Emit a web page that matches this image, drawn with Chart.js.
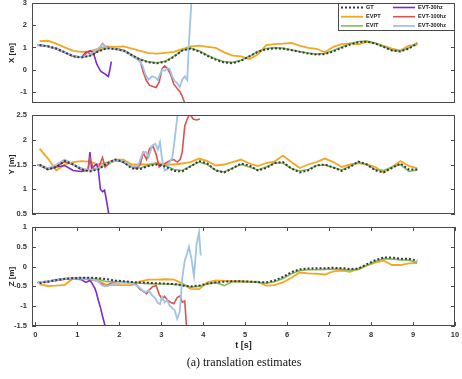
<!DOCTYPE html>
<html>
<head>
<meta charset="utf-8">
<script src="https://cdn.jsdelivr.net/npm/chart.js@4.4.1/dist/chart.umd.min.js"></script>
<style>
  html, body { margin: 0; padding: 0; background: #fff; }
  #wrap { position: relative; width: 462px; height: 379px; overflow: hidden; }
  .box { position: absolute; left: 0; width: 462px; }
  #caption {
    position: absolute; left: 144px; width: 200px; top: 355px;
    text-align: center; font: 12px "Liberation Serif", "Times New Roman", serif;
    line-height: 14px; color: #111;
  }
</style>
</head>
<body>
<div id="wrap">
  <div class="box" style="top:0;height:106px"><canvas id="cx"></canvas></div>
  <div class="box" style="top:112px;height:105px"><canvas id="cy"></canvas></div>
  <div class="box" style="top:224px;height:140px"><canvas id="cz"></canvas></div>
  <div id="caption">(a) translation estimates</div>
</div>
<script>
// time grid shared by GT / EVPT / EVIT [s]
const T = [0.1,0.3,0.5,0.7,0.9,1.1,1.3,1.5,1.7,1.9,2.1,2.3,2.5,2.7,2.9,3.1,3.3,3.5,3.7,3.9,
  4.1,4.3,4.5,4.7,4.9,5.1,5.3,5.5,5.7,5.9,6.1,6.3,6.5,6.7,6.9,7.1,7.3,7.5,7.7,7.9,
  8.1,8.3,8.5,8.7,8.9,9.1];

const GT_X   = [1.11,1.05,0.95,0.78,0.6,0.55,0.62,0.82,0.96,0.93,0.86,0.65,0.45,0.33,0.29,0.36,0.58,0.86,0.95,0.82,
  0.62,0.45,0.32,0.29,0.4,0.6,0.8,0.92,0.96,0.94,0.88,0.8,0.73,0.68,0.7,0.82,0.98,1.13,1.24,1.26,
  1.18,1.02,0.86,0.82,0.95,1.17];
const EVPT_X = [1.28,1.3,1.17,1.0,0.85,0.8,0.82,0.95,1.05,1.03,1.05,0.95,0.85,0.74,0.72,0.76,0.8,0.92,1.05,1.08,
  1.03,0.98,0.78,0.63,0.6,0.48,0.68,1.1,1.15,1.17,1.2,1.08,0.98,0.94,0.78,1.03,1.15,1.18,1.14,1.25,
  1.18,1.07,0.95,0.86,1.08,1.12];
const EVIT_X = [1.12,1.05,0.95,0.78,0.62,0.56,0.64,0.84,0.98,0.95,0.87,0.66,0.47,0.35,0.31,0.38,0.6,0.87,0.97,0.85,
  0.65,0.48,0.36,0.33,0.42,0.6,0.82,0.95,0.99,0.97,0.9,0.82,0.75,0.7,0.73,0.86,1.02,1.17,1.27,1.29,
  1.2,1.04,0.88,0.84,0.97,1.22];

const GT_Y   = [1.5,1.4,1.45,1.57,1.5,1.4,1.36,1.4,1.52,1.6,1.55,1.42,1.41,1.47,1.5,1.46,1.37,1.36,1.46,1.57,
  1.52,1.38,1.34,1.42,1.52,1.48,1.38,1.43,1.53,1.55,1.42,1.34,1.38,1.48,1.5,1.44,1.37,1.45,1.56,1.5,
  1.38,1.34,1.43,1.52,1.4,1.4];
const EVPT_Y = [1.82,1.62,1.38,1.5,1.55,1.57,1.56,1.5,1.54,1.6,1.6,1.5,1.5,1.5,1.53,1.5,1.5,1.52,1.55,1.62,
  1.57,1.48,1.5,1.55,1.6,1.52,1.47,1.53,1.56,1.68,1.55,1.43,1.5,1.55,1.62,1.55,1.45,1.5,1.53,1.5,
  1.45,1.34,1.45,1.57,1.47,1.42];
const EVIT_Y = [1.5,1.42,1.47,1.56,1.5,1.42,1.38,1.41,1.52,1.58,1.55,1.44,1.43,1.49,1.52,1.48,1.4,1.38,1.47,1.55,
  1.5,1.38,1.35,1.43,1.5,1.45,1.39,1.45,1.53,1.53,1.42,1.37,1.4,1.48,1.49,1.44,1.39,1.47,1.55,1.5,
  1.4,1.38,1.45,1.5,1.36,1.39];

const GT_Z   = [-0.42,-0.38,-0.34,-0.31,-0.29,-0.28,-0.28,-0.29,-0.32,-0.35,-0.37,-0.39,-0.4,-0.41,-0.42,-0.43,-0.44,-0.48,-0.5,-0.48,
  -0.43,-0.4,-0.38,-0.37,-0.37,-0.38,-0.39,-0.4,-0.35,-0.26,-0.14,-0.07,-0.05,-0.04,-0.04,-0.03,-0.04,-0.06,-0.05,0.06,
  0.16,0.23,0.23,0.2,0.2,0.15];
const EVPT_Z = [-0.45,-0.49,-0.48,-0.46,-0.3,-0.3,-0.33,-0.36,-0.46,-0.47,-0.47,-0.47,-0.37,-0.33,-0.33,-0.32,-0.33,-0.42,-0.56,-0.57,
  -0.4,-0.35,-0.36,-0.37,-0.37,-0.38,-0.38,-0.48,-0.47,-0.4,-0.28,-0.15,-0.17,-0.18,-0.2,-0.12,-0.1,-0.13,-0.05,0.03,
  0.1,0.15,0.04,0.04,0.08,0.09];
const EVIT_Z = [-0.4,-0.38,-0.35,-0.32,-0.3,-0.3,-0.3,-0.32,-0.38,-0.38,-0.38,-0.4,-0.42,-0.43,-0.44,-0.44,-0.45,-0.45,-0.52,-0.5,
  -0.44,-0.4,-0.48,-0.38,-0.38,-0.39,-0.4,-0.42,-0.38,-0.3,-0.18,-0.1,-0.08,-0.08,-0.07,-0.06,-0.07,-0.09,-0.07,0.03,
  0.13,0.2,0.19,0.17,0.16,0.1];

// EVT runs, each on its own time stamps (they diverge and leave the axes)
const T30    = [0.05,0.3,0.5,0.7,0.9,1.1,1.2,1.26,1.3,1.34,1.38,1.42,1.46,1.5,1.55,1.6,1.65,1.7,1.74,1.77,1.81];
const EVT30_X = [1.1,1.04,0.93,0.77,0.6,0.56,0.78,0.82,0.85,0.82,0.75,0.53,0.27,0.12,-0.05,-0.13,-0.18,-0.25,-0.3,-0.05,0.36];
const EVT30_Y = [1.5,1.41,1.45,1.48,1.38,1.36,1.38,1.4,1.75,1.42,1.45,1.48,1.5,1.4,1.0,0.95,0.98,0.75,0.55,0.35,0.1];
const EVT30_Z = [-0.4,-0.37,-0.33,-0.3,-0.3,-0.33,-0.4,-0.37,-0.35,-0.4,-0.48,-0.55,-0.68,-0.85,-1.03,-1.25,-1.45,-1.7,-1.9,-2.0,-2.1];

const T100   = [0.05,0.3,0.5,0.7,0.9,1.1,1.25,1.3,1.38,1.5,1.6,1.66,1.8,2.0,2.2,2.4,2.5,2.57,2.65,2.72,
  2.8,2.88,2.95,3.02,3.08,3.15,3.22,3.3,3.38,3.45,3.5,3.56,3.62,3.68,3.76,3.84,3.92];
const EVT100_X = [1.12,1.05,0.95,0.78,0.6,0.56,0.8,0.7,0.68,0.9,1.18,1.05,0.95,0.92,0.78,0.52,0.38,-0.1,-0.5,-0.7,
  -0.76,-0.8,-0.55,0.05,0.17,0.05,-0.2,-0.65,-0.85,-1.0,-1.2,-1.5,-1.8,-2.0,-2.2,-2.3,-2.4];
const EVT100_Y = [1.5,1.4,1.46,1.56,1.5,1.4,1.38,1.63,1.42,1.42,1.64,1.45,1.55,1.58,1.5,1.42,1.5,1.74,1.6,1.82,
  1.88,1.7,1.45,1.5,1.52,1.55,1.58,1.6,1.55,1.6,1.75,2.28,2.42,2.52,2.42,2.4,2.42];
const EVT100_Z = [-0.4,-0.38,-0.35,-0.32,-0.3,-0.3,-0.3,-0.32,-0.33,-0.38,-0.45,-0.5,-0.42,-0.4,-0.4,-0.45,-0.58,-0.62,-0.69,-0.58,
  -0.5,-0.48,-0.7,-0.82,-0.75,-0.85,-0.9,-0.94,-0.78,-0.74,-0.9,-0.87,-1.8,-2.2,-2.5,-2.7,-2.8];

const T300   = [0.05,0.3,0.5,0.7,0.9,1.1,1.3,1.5,1.6,1.7,1.9,2.1,2.3,2.45,2.55,2.63,2.7,2.78,2.86,2.92,
  2.97,3.02,3.08,3.14,3.2,3.26,3.32,3.38,3.44,3.5,3.56,3.62,3.66,3.72,3.78,3.84,3.9,3.94];
const EVT300_X = [1.12,1.05,0.95,0.78,0.62,0.56,0.65,0.95,1.15,1.0,0.93,0.85,0.62,0.45,0.2,-0.25,-0.45,-0.3,-0.35,-0.47,
  -0.2,0.0,-0.05,0.05,0.05,-0.3,-0.5,-0.62,-0.78,-0.45,-0.3,-0.47,1.2,3.1,4.0,4.5,5.0,5.0];
const EVT300_Y = [1.5,1.42,1.5,1.6,1.5,1.42,1.38,1.42,1.48,1.52,1.58,1.57,1.45,1.48,1.72,1.76,1.65,1.88,1.92,1.8,
  1.95,1.6,1.38,1.4,1.55,1.63,2.0,2.45,2.7,3.0,3.2,3.3,3.4,3.5,3.6,3.6,3.7,3.7];
const EVT300_Z = [-0.4,-0.37,-0.34,-0.31,-0.3,-0.3,-0.3,-0.38,-0.48,-0.5,-0.42,-0.4,-0.42,-0.5,-0.6,-0.65,-0.6,-0.72,-0.8,-0.92,
  -0.95,-0.76,-0.9,-0.85,-0.98,-1.05,-1.1,-1.32,-1.15,-0.3,0.15,0.35,0.5,0.2,-0.25,0.55,0.87,0.28];

// tick labels
const T_TICKS = [0,1,2,3,4,5,6,7,8,9,10];
const X_TICKS = [-1,0,1,2,3];
const Y_TICKS = [0.5,1,1.5,2,2.5];
const Z_TICKS = [-1.5,-1,-0.5,0,0.5,1];

const LEGEND_ORDER = [['GT','EVT-30hz'],['EVPT','EVT-100hz'],['EVIT','EVT-300hz']];

const STYLE = {
  'GT':        { color: '#3a3a3a', width: 2,   dash: [2, 2] },
  'EVPT':      { color: '#f5a623', width: 1.8, dash: [] },
  'EVIT':      { color: '#7dbb5b', width: 1.6, dash: [] },
  'EVT-30hz':  { color: '#7a2bd0', width: 1.6, dash: [] },
  'EVT-100hz': { color: '#d9534f', width: 1.6, dash: [] },
  'EVT-300hz': { color: '#9fc4e7', width: 1.8, dash: [] }
};

const FONT = '"Liberation Sans", Arial, sans-serif';
const AXIS = '#4a4a4a';

const pts = (ts, vs) => ts.map((t, i) => ({ x: t, y: vs[i] }));

function ds(label, ts, vs) {
  const s = STYLE[label];
  return {
    label, data: pts(ts, vs), borderColor: s.color, backgroundColor: s.color,
    borderWidth: s.width, borderDash: s.dash, pointRadius: 0, tension: 0, clip: 0
  };
}

function drawLegend(chart) {
  const { ctx, chartArea: a } = chart;
  const left = a.right - 117, top = a.top, w = 117, h = 28;
  ctx.fillStyle = '#fff';
  ctx.fillRect(left, top, w, h);
  ctx.strokeStyle = AXIS;
  ctx.lineWidth = 1;
  ctx.strokeRect(left + 0.5, top + 0.5, w - 1, h - 1);
  ctx.font = 'bold 5.6px ' + FONT;
  ctx.textBaseline = 'middle';
  ctx.textAlign = 'left';
  LEGEND_ORDER.forEach((row, r) => {
    const y = top + 4.5 + r * 9.2;
    row.forEach((label, c) => {
      const s = STYLE[label];
      const x0 = left + 3 + c * 52;
      ctx.beginPath();
      ctx.strokeStyle = s.color;
      ctx.lineWidth = s.width;
      ctx.setLineDash(s.dash);
      ctx.moveTo(x0, y);
      ctx.lineTo(x0 + 22, y);
      ctx.stroke();
      ctx.setLineDash([]);
      ctx.fillStyle = '#222';
      ctx.fillText(label, x0 + 25, y);
    });
  });
}

const framePlugin = {
  id: 'frame',
  afterDraw(chart, args, opts) {
    const { ctx, chartArea: a, scales } = chart;
    ctx.save();
    ctx.strokeStyle = AXIS;
    ctx.lineWidth = 1;
    ctx.strokeRect(a.left + 0.5, a.top + 0.5, a.right - a.left - 1, a.bottom - a.top - 1);
    ctx.beginPath();
    scales.y.ticks.forEach(t => {
      const py = Math.round(scales.y.getPixelForValue(t.value)) + 0.5;
      ctx.moveTo(a.left, py); ctx.lineTo(a.left + 4, py);
      ctx.moveTo(a.right, py); ctx.lineTo(a.right - 4, py);
    });
    if (opts.xTicks) {
      scales.x.ticks.forEach(t => {
        const px = Math.round(scales.x.getPixelForValue(t.value)) + 0.5;
        ctx.moveTo(px, a.bottom); ctx.lineTo(px, a.bottom - 4);
        ctx.moveTo(px, a.top); ctx.lineTo(px, a.top + 4);
      });
    }
    ctx.stroke();
    if (opts.legend) drawLegend(chart);
    ctx.restore();
  }
};

function panel(id, sets, yMin, yMax, yTicks, yTitle, isBottom, legend) {
  new Chart(document.getElementById(id), {
    type: 'line',
    data: { datasets: sets },
    plugins: [framePlugin],
    options: {
      responsive: true,
      maintainAspectRatio: false,
      animation: false,
      events: [],
      layout: { padding: { left: 0, right: 7, top: 3, bottom: isBottom ? 9 : 3 } },
      scales: {
        x: {
          type: 'linear', min: -0.08, max: 10,
          display: isBottom,
          grid: { display: false, drawTicks: false },
          border: { display: false },
          afterBuildTicks: s => { s.ticks = T_TICKS.map(v => ({ value: v })); },
          afterFit: s => {
            s.height = isBottom ? 29 : 0;
            s.paddingLeft = 0; s.paddingRight = 0;
          },
          ticks: { color: '#333', padding: 4, maxRotation: 0, autoSkip: false,
                   font: { family: FONT, size: 7.5, weight: 'bold' }, callback: v => String(v) },
          title: { display: true, text: 't [s]', color: '#222', padding: { top: 4, bottom: 4 },
                   font: { family: FONT, size: 9, weight: 'bold' } }
        },
        y: {
          min: yMin, max: yMax,
          grid: { display: false, drawTicks: false },
          border: { display: false },
          afterBuildTicks: s => { s.ticks = yTicks.map(v => ({ value: v })); },
          afterFit: s => {
            s.width = 32;
            s.paddingTop = 0; s.paddingBottom = 0;
          },
          ticks: { color: '#333', padding: 5, autoSkip: false,
                   font: { family: FONT, size: 7.5, weight: 'bold' }, callback: v => String(v) },
          title: { display: true, text: yTitle, color: '#222', padding: { top: 7, bottom: 0 },
                   font: { family: FONT, size: 8, weight: 'bold' } }
        }
      },
      plugins: {
        legend: { display: false },
        tooltip: { enabled: false },
        frame: { xTicks: isBottom, legend: legend }
      }
    }
  });
}

// first dataset is drawn on top
panel('cx', [
  ds('GT', T, GT_X), ds('EVT-300hz', T300, EVT300_X), ds('EVT-100hz', T100, EVT100_X),
  ds('EVT-30hz', T30, EVT30_X), ds('EVIT', T, EVIT_X), ds('EVPT', T, EVPT_X)
], -1.5, 3, X_TICKS, 'X [m]', false, true);

panel('cy', [
  ds('GT', T, GT_Y), ds('EVT-300hz', T300, EVT300_Y), ds('EVT-100hz', T100, EVT100_Y),
  ds('EVT-30hz', T30, EVT30_Y), ds('EVIT', T, EVIT_Y), ds('EVPT', T, EVPT_Y)
], 0.5, 2.5, Y_TICKS, 'Y [m]', false, false);

panel('cz', [
  ds('GT', T, GT_Z), ds('EVT-300hz', T300, EVT300_Z), ds('EVT-100hz', T100, EVT100_Z),
  ds('EVT-30hz', T30, EVT30_Z), ds('EVIT', T, EVIT_Z), ds('EVPT', T, EVPT_Z)
], -1.5, 1, Z_TICKS, 'Z [m]', true, false);
</script>
</body>
</html>
